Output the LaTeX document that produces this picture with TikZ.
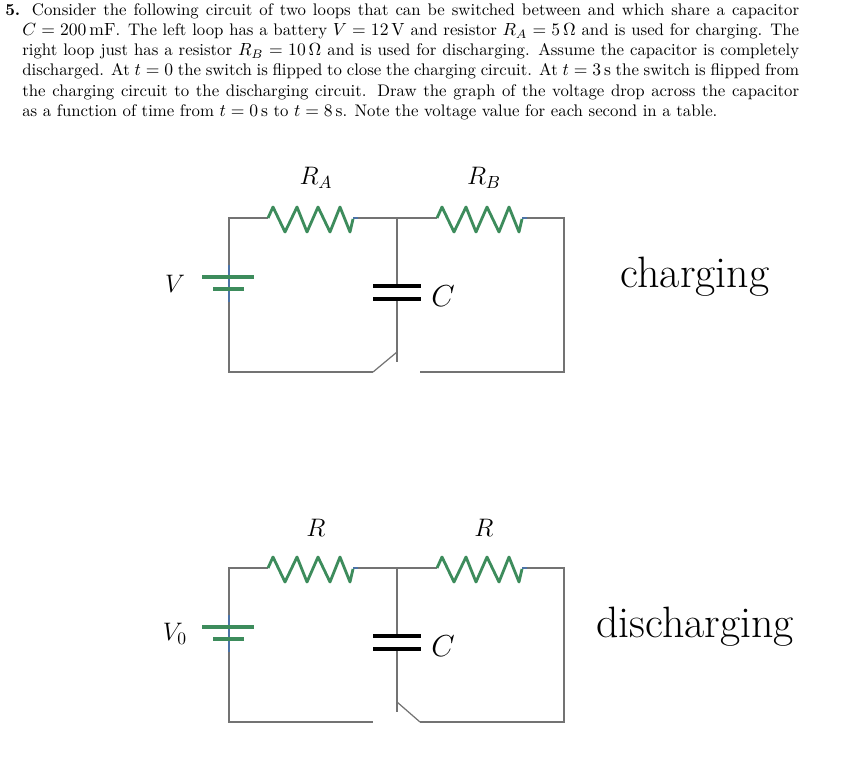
\documentclass[tikz,border=0pt]{standalone}
\usepackage{amsmath}
\usepackage{tikz}
\usepackage{xcolor}
\definecolor{wiregray}{rgb}{0.45,0.45,0.45}
\definecolor{resgreen}{rgb}{0.24,0.55,0.36}
\definecolor{stubblue}{rgb}{0.3,0.45,0.65}
\tikzset{
  wire/.style={wiregray,line width=0.7pt},
  res/.style={resgreen,line width=1.6pt,line join=round},
  stub/.style={stubblue,line width=1.2pt},
  plate/.style={black,line width=1.8pt},
  lbl/.style={font=\Large},
}
\newcommand{\zigzag}[1]{%
  \draw[res] (#1) -- ++(5,-11) -- ++(12,25) -- ++(12,-25) -- ++(10,25) -- ++(11,-25)
    -- ++(12,25) -- ++(10,-25) -- ++(10,25) -- ++(3,-13);
  \draw[stub] (#1) ++(85,0) -- ++(5,0);}
\begin{document}
\begin{tikzpicture}[x=0.02cm,y=-0.02cm]
	\useasboundingbox (0,0) rectangle (848,781);

	%QUESTION
	\node[anchor=north west,inner sep=0pt] (question) at (5,3) {\parbox{15.88cm}{\fontsize{9.55}{11.5}\selectfont
	\hangindent=0.34cm\hangafter=1
	\textbf{5.} Consider the following circuit of two loops that can be switched between and which share a capacitor\linebreak
	$C=200\,\mathrm{mF}$. The left loop has a battery $V=12\,\mathrm{V}$ and resistor $R_A=5\,\Omega$ and is used for charging. The\linebreak
	right loop just has a resistor $R_B=10\,\Omega$ and is used for discharging. Assume the capacitor is completely\linebreak
	discharged. At $t=0$ the switch is flipped to close the charging circuit. At $t=3\,\mathrm{s}$ the switch is flipped from\linebreak
	the charging circuit to the discharging circuit. Draw the graph of the voltage drop across the capacitor\linebreak
	as a function of time from $t=0\,\mathrm{s}$ to $t=8\,\mathrm{s}$. Note the voltage value for each second in a table.}};

	\foreach \dy/\ra/\rb/\vv/\word/\sw in {0/R_A/R_B/V/charging/0, 350/R/R/V_0/discharging/1}{
	\begin{scope}[yshift=-\dy*0.02cm]
	%CORNERS
	\coordinate (tl) at (229,218); \coordinate (tm) at (397,218); \coordinate (tr) at (564,218);
	\coordinate (bl) at (229,372); \coordinate (br) at (564,372);
	\coordinate (ba) at (229,265); \coordinate (bb) at (229,302);
	\coordinate (ca) at (397,286); \coordinate (cb) at (397,299);
	\coordinate (ra) at (268,218); \coordinate (rb) at (437,218);
	%WIRES
	\draw[wire] (ba) -- (tl) -- (ra);
	\draw[wire] (ra) ++(90,0) -- (rb);
	\draw[wire] (rb) ++(90,0) -- (tr) -- (br) -- (420,372);
	\draw[wire] (tm) -- (ca);
	\draw[wire] (bb) -- (bl) -- (373,372);
	\ifnum\sw=0
	  \draw[wire] (cb) -- (397,362); \draw[wire] (397,352) -- (373,372);
	\else
	  \draw[wire] (cb) -- (397,362); \draw[wire] (397,352) -- (420,372);
	\fi
	%RESISTORS
	\zigzag{ra} \zigzag{rb}
	%BATTERY
	\draw[stub] (ba) -- (bb);
	\draw[res,line width=1.8pt] (202,277) -- (254,277);
	\draw[res,line width=1.8pt] (213,289) -- (244,289);
	%CAPACITOR
	\draw[plate] (ca) ++(-24,0) -- ++(48,0);
	\draw[plate] (cb) ++(-24,0) -- ++(48,0);
	%LABELS
	\node[lbl] (labA) at (316,178) {$\ra$};
	\node[lbl] (labB) at (484,178) {$\rb$};
	\node[lbl] (labV) at (175,284) {$\vv$};
	\node[font=\LARGE] (labC) at (443,296) {$C$};
	\node[font=\fontsize{25}{30}\selectfont] (word) at (695,277) {\word};
	\end{scope}}
\end{tikzpicture}
\end{document}
